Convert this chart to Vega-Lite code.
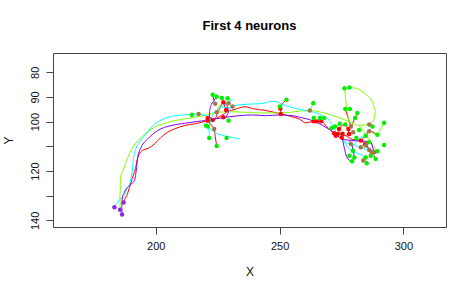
{
 "$schema": "https://vega.github.io/schema/vega-lite/v6.json",
 "width": 393, "height": 174,
 "autosize": "none",
 "padding": {"left": 53, "top": 53, "right": 28, "bottom": 66},
 "background": "white",
 "title": {"text": "First 4 neurons", "font": "Liberation Sans", "fontSize": 13, "fontWeight": "bold", "anchor": "middle", "offset": 20, "color": "#000"},
 "config": {"view": {"stroke": "#444", "strokeWidth": 1}},
 "datasets": {
  "lines": [
   {"n":"1","b":"r1","o":1,"x":187,"y":132.8},{"n":"1","b":"r1","o":2,"x":187.5,"y":131.5},{"n":"1","b":"r1","o":3,"x":188.5,"y":129.5},{"n":"1","b":"r1","o":4,"x":189.4,"y":126.6},{"n":"1","b":"r1","o":5,"x":190.5,"y":123},{"n":"1","b":"r1","o":6,"x":191.8,"y":119},{"n":"1","b":"r1","o":7,"x":192.5,"y":115.5},{"n":"1","b":"r1","o":8,"x":193.5,"y":112.8},{"n":"1","b":"r1","o":9,"x":195,"y":111.5},{"n":"1","b":"r1","o":10,"x":197,"y":110.8},{"n":"1","b":"r1","o":11,"x":199.5,"y":109},{"n":"1","b":"r1","o":12,"x":202,"y":106.5},{"n":"1","b":"r1","o":13,"x":204.8,"y":104.3},{"n":"1","b":"r1","o":14,"x":207.5,"y":103},{"n":"1","b":"r1","o":15,"x":211.6,"y":101.6},{"n":"1","b":"r1","o":16,"x":215.6,"y":100.9},{"n":"1","b":"r1","o":17,"x":218.5,"y":100.3},{"n":"1","b":"r1","o":18,"x":221,"y":99.6},{"n":"1","b":"r1","o":19,"x":224,"y":99},{"n":"1","b":"r1","o":20,"x":226.5,"y":97.5},{"n":"1","b":"r1","o":21,"x":229,"y":96},{"n":"1","b":"r1","o":22,"x":232,"y":95},{"n":"1","b":"r1","o":23,"x":236,"y":94},{"n":"1","b":"r1","o":24,"x":239.5,"y":94.8},{"n":"1","b":"r1","o":25,"x":244.5,"y":95.5},{"n":"1","b":"r1","o":26,"x":250.5,"y":96.9},{"n":"1","b":"r1","o":27,"x":255,"y":98},{"n":"1","b":"r1","o":28,"x":258,"y":99},{"n":"1","b":"r1","o":29,"x":260.6,"y":100.5},{"n":"1","b":"r1","o":30,"x":263.8,"y":99.9},{"n":"1","b":"r1","o":31,"x":266.8,"y":99.9},{"n":"1","b":"r1","o":32,"x":269,"y":102},{"n":"1","b":"r1","o":33,"x":272,"y":104.5},{"n":"1","b":"r1","o":34,"x":274,"y":105},{"n":"1","b":"r1","o":35,"x":276.7,"y":105.7},{"n":"1","b":"r1","o":36,"x":279.4,"y":107.2},{"n":"1","b":"r1","o":37,"x":282.8,"y":107.7},{"n":"1","b":"r1","o":38,"x":284.5,"y":109.3},{"n":"1","b":"r1","o":39,"x":287.2,"y":112.4},{"n":"1","b":"r1","o":40,"x":288.8,"y":115.1},
   {"n":"1","b":"r2","o":1,"x":221,"y":99.6},{"n":"1","b":"r2","o":2,"x":222.5,"y":101.5},{"n":"1","b":"r2","o":3,"x":223.6,"y":103},{"n":"1","b":"r2","o":4,"x":224,"y":106},{"n":"1","b":"r2","o":5,"x":224.6,"y":109.9},
   {"n":"1","b":"r3","o":1,"x":224,"y":99},{"n":"1","b":"r3","o":2,"x":225.5,"y":95.5},{"n":"1","b":"r3","o":3,"x":227.3,"y":92.2},{"n":"1","b":"r3","o":4,"x":227,"y":90.8},{"n":"1","b":"r3","o":5,"x":226.7,"y":90.4},
   {"n":"1","b":"r4","o":1,"x":227.3,"y":92.2},{"n":"1","b":"r4","o":2,"x":228.4,"y":95.3},
   {"n":"1","b":"r5","o":1,"x":250.5,"y":96.9},{"n":"1","b":"r5","o":2,"x":250.3,"y":95},{"n":"1","b":"r5","o":3,"x":250.1,"y":93.9},{"n":"1","b":"r5","o":4,"x":251.5,"y":92.3},{"n":"1","b":"r5","o":5,"x":252.8,"y":91.1},
   {"n":"1","b":"r6","o":1,"x":263.8,"y":99.9},{"n":"1","b":"r6","o":2,"x":263.8,"y":98.5},
   {"n":"1","b":"r7","o":1,"x":274,"y":105},{"n":"1","b":"r7","o":2,"x":274,"y":103},{"n":"1","b":"r7","o":3,"x":276.5,"y":101.2},{"n":"1","b":"r7","o":4,"x":277.8,"y":103},{"n":"1","b":"r7","o":5,"x":278.8,"y":102},{"n":"1","b":"r7","o":6,"x":280.5,"y":98.5},{"n":"1","b":"r7","o":7,"x":281.4,"y":96.5},
   {"n":"1","b":"r8","o":1,"x":278.8,"y":102},{"n":"1","b":"r8","o":2,"x":276.5,"y":94.9},
   {"n":"1","b":"r9","o":1,"x":282.8,"y":107.7},{"n":"1","b":"r9","o":2,"x":284.8,"y":105.7},{"n":"1","b":"r9","o":3,"x":286.2,"y":103.9},{"n":"1","b":"r9","o":4,"x":289.5,"y":105.3},
   {"n":"1","b":"r10","o":1,"x":284.5,"y":109.3},{"n":"1","b":"r10","o":2,"x":286,"y":108.4},
   {"n":"1","b":"r11","o":1,"x":276.7,"y":105.7},{"n":"1","b":"r11","o":2,"x":278.1,"y":105},{"n":"1","b":"r11","o":3,"x":277.8,"y":103},
   {"n":"2","b":"g1","o":1,"x":185.6,"y":135.7},{"n":"2","b":"g1","o":2,"x":185.5,"y":130},{"n":"2","b":"g1","o":3,"x":185.7,"y":126},{"n":"2","b":"g1","o":4,"x":185.7,"y":122.6},{"n":"2","b":"g1","o":5,"x":186.7,"y":119.9},{"n":"2","b":"g1","o":6,"x":188.7,"y":114.5},{"n":"2","b":"g1","o":7,"x":190.7,"y":110.4},{"n":"2","b":"g1","o":8,"x":194.1,"y":106.4},{"n":"2","b":"g1","o":9,"x":199.5,"y":102.3},{"n":"2","b":"g1","o":10,"x":204.8,"y":100.3},{"n":"2","b":"g1","o":11,"x":211.6,"y":98.9},{"n":"2","b":"g1","o":12,"x":215.6,"y":98.2},{"n":"2","b":"g1","o":13,"x":220,"y":97.5},{"n":"2","b":"g1","o":14,"x":224.6,"y":96.2},{"n":"2","b":"g1","o":15,"x":230,"y":96},{"n":"2","b":"g1","o":16,"x":236,"y":96.2},{"n":"2","b":"g1","o":17,"x":242,"y":96.5},{"n":"2","b":"g1","o":18,"x":250,"y":96.5},{"n":"2","b":"g1","o":19,"x":256,"y":96},{"n":"2","b":"g1","o":20,"x":262.2,"y":95.5},{"n":"2","b":"g1","o":21,"x":268,"y":96.5},{"n":"2","b":"g1","o":22,"x":273,"y":98},{"n":"2","b":"g1","o":23,"x":278,"y":100},{"n":"2","b":"g1","o":24,"x":282,"y":101.5},{"n":"2","b":"g1","o":25,"x":286.2,"y":101.2},
   {"n":"2","b":"g2","o":1,"x":220,"y":97.5},{"n":"2","b":"g2","o":2,"x":217.3,"y":96.9},{"n":"2","b":"g2","o":3,"x":214.6,"y":97.2},
   {"n":"2","b":"g3","o":1,"x":224.6,"y":96.2},{"n":"2","b":"g3","o":2,"x":225.5,"y":94},{"n":"2","b":"g3","o":3,"x":227,"y":92.5},{"n":"2","b":"g3","o":4,"x":229,"y":90.5},
   {"n":"2","b":"g4","o":1,"x":262.2,"y":95.5},{"n":"2","b":"g4","o":2,"x":263.6,"y":92.6},
   {"n":"2","b":"g5","o":1,"x":278,"y":100},{"n":"2","b":"g5","o":2,"x":277.5,"y":97},{"n":"2","b":"g5","o":3,"x":276.9,"y":93},{"n":"2","b":"g5","o":4,"x":276.5,"y":89},{"n":"2","b":"g5","o":5,"x":276.2,"y":86.5},
   {"n":"2","b":"g6","o":1,"x":286.2,"y":101.2},{"n":"2","b":"g6","o":2,"x":288.2,"y":99},{"n":"2","b":"g6","o":3,"x":288.8,"y":95.5},{"n":"2","b":"g6","o":4,"x":287.5,"y":92},{"n":"2","b":"g6","o":5,"x":284.8,"y":89},{"n":"2","b":"g6","o":6,"x":281,"y":86.5},{"n":"2","b":"g6","o":7,"x":278.2,"y":86.2},
   {"n":"2","b":"g7","o":1,"x":286.2,"y":103.9},{"n":"2","b":"g7","o":2,"x":289.5,"y":105.3},{"n":"2","b":"g7","o":3,"x":291,"y":102.5},{"n":"2","b":"g7","o":4,"x":292.2,"y":100.5},
   {"n":"2","b":"g8","o":1,"x":282,"y":101.5},{"n":"2","b":"g8","o":2,"x":284,"y":104},{"n":"2","b":"g8","o":3,"x":286,"y":107},{"n":"2","b":"g8","o":4,"x":288,"y":110},{"n":"2","b":"g8","o":5,"x":289.5,"y":112},
   {"n":"3","b":"c1","o":1,"x":183.3,"y":134.7},{"n":"3","b":"c1","o":2,"x":185,"y":132},{"n":"3","b":"c1","o":3,"x":187,"y":130},{"n":"3","b":"c1","o":4,"x":188.5,"y":127},{"n":"3","b":"c1","o":5,"x":189.8,"y":124},{"n":"3","b":"c1","o":6,"x":190.5,"y":120},{"n":"3","b":"c1","o":7,"x":191,"y":115},{"n":"3","b":"c1","o":8,"x":192,"y":111},{"n":"3","b":"c1","o":9,"x":194,"y":107.5},{"n":"3","b":"c1","o":10,"x":196.5,"y":104.5},{"n":"3","b":"c1","o":11,"x":198.5,"y":102},{"n":"3","b":"c1","o":12,"x":201,"y":100},{"n":"3","b":"c1","o":13,"x":204,"y":98.5},{"n":"3","b":"c1","o":14,"x":208,"y":97.6},{"n":"3","b":"c1","o":15,"x":212,"y":97.2},{"n":"3","b":"c1","o":16,"x":217,"y":97},{"n":"3","b":"c1","o":17,"x":220,"y":97.5},{"n":"3","b":"c1","o":18,"x":222,"y":99},{"n":"3","b":"c1","o":19,"x":222,"y":100.5},{"n":"3","b":"c1","o":20,"x":221,"y":102},
   {"n":"3","b":"c2","o":1,"x":221,"y":102},{"n":"3","b":"c2","o":2,"x":221.6,"y":104.5},{"n":"3","b":"c2","o":3,"x":221.6,"y":106.6},
   {"n":"3","b":"c3","o":1,"x":221,"y":102},{"n":"3","b":"c3","o":2,"x":224,"y":104.5},{"n":"3","b":"c3","o":3,"x":228,"y":105.8},{"n":"3","b":"c3","o":4,"x":231,"y":106.5},{"n":"3","b":"c3","o":5,"x":234,"y":107},
   {"n":"3","b":"c4","o":1,"x":222,"y":99},{"n":"3","b":"c4","o":2,"x":224,"y":96},{"n":"3","b":"c4","o":3,"x":226.5,"y":94},{"n":"3","b":"c4","o":4,"x":229,"y":92},{"n":"3","b":"c4","o":5,"x":231,"y":91},
   {"n":"3","b":"c5","o":1,"x":226.5,"y":94},{"n":"3","b":"c5","o":2,"x":230,"y":94.5},{"n":"3","b":"c5","o":3,"x":232,"y":93.5},{"n":"3","b":"c5","o":4,"x":236,"y":93},{"n":"3","b":"c5","o":5,"x":240,"y":92.8},{"n":"3","b":"c5","o":6,"x":244,"y":92.5},{"n":"3","b":"c5","o":7,"x":246.5,"y":91.8},{"n":"3","b":"c5","o":8,"x":249,"y":92},{"n":"3","b":"c5","o":9,"x":251,"y":93},{"n":"3","b":"c5","o":10,"x":254,"y":94},{"n":"3","b":"c5","o":11,"x":258,"y":95},{"n":"3","b":"c5","o":12,"x":263,"y":96},{"n":"3","b":"c5","o":13,"x":267,"y":97.5},{"n":"3","b":"c5","o":14,"x":270,"y":99.5},{"n":"3","b":"c5","o":15,"x":272,"y":102.5},{"n":"3","b":"c5","o":16,"x":273.5,"y":105.5},{"n":"3","b":"c5","o":17,"x":276,"y":108},{"n":"3","b":"c5","o":18,"x":280,"y":109.5},{"n":"3","b":"c5","o":19,"x":284,"y":111},{"n":"3","b":"c5","o":20,"x":287,"y":111.5},{"n":"3","b":"c5","o":21,"x":289.5,"y":112},
   {"n":"3","b":"c6","o":1,"x":276,"y":108},{"n":"3","b":"c6","o":2,"x":279,"y":111.8},{"n":"3","b":"c6","o":3,"x":282,"y":113},{"n":"3","b":"c6","o":4,"x":284.8,"y":114.5},
   {"n":"3","b":"c7","o":1,"x":280,"y":109.5},{"n":"3","b":"c7","o":2,"x":282,"y":107},{"n":"3","b":"c7","o":3,"x":284.8,"y":105.7},
   {"n":"3","b":"c8","o":1,"x":228,"y":98.5},{"n":"3","b":"c8","o":2,"x":229.4,"y":99.6},
   {"n":"4","b":"p1","o":1,"x":186.4,"y":137.6},{"n":"4","b":"p1","o":2,"x":186.2,"y":135},{"n":"4","b":"p1","o":3,"x":186.5,"y":131},{"n":"4","b":"p1","o":4,"x":187.4,"y":128.5},{"n":"4","b":"p1","o":5,"x":190,"y":125.3},{"n":"4","b":"p1","o":6,"x":191.4,"y":123.9},{"n":"4","b":"p1","o":7,"x":192.1,"y":119.9},{"n":"4","b":"p1","o":8,"x":192.7,"y":114.5},{"n":"4","b":"p1","o":9,"x":194.1,"y":110.4},{"n":"4","b":"p1","o":10,"x":196.8,"y":107},{"n":"4","b":"p1","o":11,"x":200.8,"y":103.6},{"n":"4","b":"p1","o":12,"x":206.2,"y":101.6},{"n":"4","b":"p1","o":13,"x":211.6,"y":100.7},{"n":"4","b":"p1","o":14,"x":216.9,"y":99.9},{"n":"4","b":"p1","o":15,"x":219.6,"y":99.6},{"n":"4","b":"p1","o":16,"x":221.6,"y":98.2},{"n":"4","b":"p1","o":17,"x":223,"y":98.9},{"n":"4","b":"p1","o":18,"x":228.4,"y":98.2},{"n":"4","b":"p1","o":19,"x":233.7,"y":97.6},{"n":"4","b":"p1","o":20,"x":239,"y":97.3},{"n":"4","b":"p1","o":21,"x":244.5,"y":97.6},{"n":"4","b":"p1","o":22,"x":250,"y":97.3},{"n":"4","b":"p1","o":23,"x":255.2,"y":97.6},{"n":"4","b":"p1","o":24,"x":258,"y":98.2},{"n":"4","b":"p1","o":25,"x":263.3,"y":99.6},{"n":"4","b":"p1","o":26,"x":268.7,"y":102.3},{"n":"4","b":"p1","o":27,"x":272.7,"y":105},{"n":"4","b":"p1","o":28,"x":275.4,"y":107.2},{"n":"4","b":"p1","o":29,"x":278,"y":107.5},{"n":"4","b":"p1","o":30,"x":281,"y":107.8},{"n":"4","b":"p1","o":31,"x":284.8,"y":108},{"n":"4","b":"p1","o":32,"x":287,"y":108.5},
   {"n":"4","b":"p2","o":1,"x":221.6,"y":98.2},{"n":"4","b":"p2","o":2,"x":221.8,"y":95.5},{"n":"4","b":"p2","o":3,"x":222.5,"y":93},{"n":"4","b":"p2","o":4,"x":223.5,"y":91.5},{"n":"4","b":"p2","o":5,"x":224.6,"y":89.9},
   {"n":"4","b":"p3","o":1,"x":223,"y":89.1},{"n":"4","b":"p3","o":2,"x":223.5,"y":91.5},
   {"n":"4","b":"p4","o":1,"x":228.4,"y":98.2},{"n":"4","b":"p4","o":2,"x":229.4,"y":96.5},{"n":"4","b":"p4","o":3,"x":229,"y":94},{"n":"4","b":"p4","o":4,"x":228,"y":92.8},
   {"n":"4","b":"p5","o":1,"x":275.4,"y":107.2},{"n":"4","b":"p5","o":2,"x":276,"y":110},{"n":"4","b":"p5","o":3,"x":276.7,"y":113.1},{"n":"4","b":"p5","o":4,"x":278,"y":115.5},{"n":"4","b":"p5","o":5,"x":279.3,"y":116.1},
   {"n":"4","b":"p6","o":1,"x":278,"y":107.5},{"n":"4","b":"p6","o":2,"x":279.6,"y":111.1},{"n":"4","b":"p6","o":3,"x":280.2,"y":114.5},
   {"n":"4","b":"p7","o":1,"x":284.8,"y":108},{"n":"4","b":"p7","o":2,"x":286.2,"y":111.5},{"n":"4","b":"p7","o":3,"x":287.2,"y":112.4},
   {"n":"4","b":"p8","o":1,"x":287,"y":108.5},{"n":"4","b":"p8","o":2,"x":288.2,"y":112.4}
  ],
  "points": [
   {"t":"soma","x":183.3,"y":134.7},{"t":"soma","x":185.6,"y":135.7},{"t":"soma","x":186.4,"y":137.6},{"t":"soma","x":187,"y":132.8},
   {"t":"branch","x":221,"y":98.5},{"t":"branch","x":221,"y":99.6},{"t":"branch","x":223,"y":99.3},{"t":"branch","x":227.3,"y":92.2},{"t":"branch","x":228.4,"y":95.3},{"t":"branch","x":227.3,"y":98.2},{"t":"branch","x":250.5,"y":96.9},{"t":"branch","x":250.3,"y":94.7},{"t":"branch","x":263.8,"y":99.9},{"t":"branch","x":265,"y":99.9},{"t":"branch","x":266.8,"y":99.9},{"t":"branch","x":274,"y":103},{"t":"branch","x":272,"y":104.7},{"t":"branch","x":272.7,"y":105.7},{"t":"branch","x":273.4,"y":105},{"t":"branch","x":275.1,"y":106.4},{"t":"branch","x":277.8,"y":103},{"t":"branch","x":278.1,"y":105},{"t":"branch","x":282.8,"y":107.7},{"t":"branch","x":284.5,"y":109.3},{"t":"branch","x":275.4,"y":104.9},
   {"t":"end","x":214.6,"y":97.2},{"t":"end","x":223,"y":89.1},{"t":"end","x":224.6,"y":89.9},{"t":"end","x":226.7,"y":90.4},{"t":"end","x":229,"y":90.5},{"t":"end","x":221,"y":102},{"t":"end","x":220.3,"y":101.6},{"t":"end","x":221.6,"y":106.6},{"t":"end","x":224.6,"y":109.9},{"t":"end","x":228.6,"y":106.6},{"t":"end","x":229.4,"y":99.6},{"t":"end","x":250.1,"y":93.9},{"t":"end","x":252.8,"y":91.1},{"t":"end","x":263.6,"y":92.6},{"t":"end","x":263.8,"y":98.5},{"t":"end","x":266.3,"y":98.5},{"t":"end","x":268,"y":98.5},{"t":"end","x":276.2,"y":86.5},{"t":"end","x":278.2,"y":86.2},{"t":"end","x":276.5,"y":94.9},{"t":"end","x":278.4,"y":94.9},{"t":"end","x":281.4,"y":96.5},{"t":"end","x":280.5,"y":98.5},{"t":"end","x":271.1,"y":102.6},{"t":"end","x":272.4,"y":102},{"t":"end","x":274.3,"y":100.9},{"t":"end","x":276.5,"y":101.2},{"t":"end","x":282.1,"y":103.4},{"t":"end","x":287.5,"y":102},{"t":"end","x":292.2,"y":100.5},{"t":"end","x":289.5,"y":105.3},{"t":"end","x":281,"y":106.6},{"t":"end","x":284.8,"y":105.7},{"t":"end","x":286,"y":108.4},{"t":"end","x":289.5,"y":112},{"t":"end","x":292.2,"y":109.5},{"t":"end","x":288.8,"y":115.1},{"t":"end","x":286.8,"y":113.8},{"t":"end","x":279.6,"y":111.8},{"t":"end","x":278.2,"y":113.8},{"t":"end","x":280.2,"y":114.5},{"t":"end","x":279.3,"y":116.1},{"t":"end","x":285.2,"y":116.9},{"t":"end","x":284.8,"y":114.5},
   {"t":"mid","x":217.3,"y":96.9},{"t":"mid","x":224,"y":92.8},{"t":"mid","x":229.4,"y":92.6},{"t":"mid","x":231,"y":93.9},{"t":"mid","x":224.6,"y":96.2},{"t":"mid","x":223.6,"y":103},{"t":"mid","x":262.2,"y":95.5},{"t":"mid","x":286.2,"y":101.2},{"t":"mid","x":286.2,"y":103.9},{"t":"mid","x":278.8,"y":102},{"t":"mid","x":279.7,"y":104.3},{"t":"mid","x":278.8,"y":109.1},{"t":"mid","x":282.8,"y":110.4},{"t":"mid","x":284.8,"y":109.7},{"t":"mid","x":286.2,"y":111.5},{"t":"mid","x":287.2,"y":112.4},{"t":"mid","x":283.8,"y":115.8},{"t":"mid","x":288.2,"y":112.4}
  ]
 },
 "encoding": {
  "x": {"field": "x", "type": "quantitative", "scale": {"domain": [158.5, 317.2], "nice": false, "zero": false},
        "axis": {"values": [200, 250, 300], "domain": false, "grid": false, "tickSize": 7, "tickColor": "#444", "labelFont": "Liberation Sans", "labelFontSize": 11, "labelColor": "#111", "labelPadding": 6, "title": "X", "titleFont": "Liberation Sans", "titleFontSize": 12, "titleFontWeight": "normal", "titleColor": "#111", "titlePadding": 15}},
  "y": {"field": "y", "type": "quantitative", "scale": {"domain": [72.2, 142.7], "nice": false, "zero": false, "reverse": true},
        "axis": {"values": [80, 90, 100, 110, 120, 130, 140], "labelExpr": "datum.value == 110 || datum.value == 130 ? '' : datum.label", "domain": false, "grid": false, "tickSize": 7, "tickColor": "#444", "labelAngle": -90, "labelAlign": "center", "labelBaseline": "bottom", "labelFont": "Liberation Sans", "labelFontSize": 11, "labelColor": "#111", "labelPadding": 6, "title": "Y", "titleFont": "Liberation Sans", "titleFontSize": 12, "titleFontWeight": "normal", "titleColor": "#111", "titlePadding": 14}}
 },
 "layer": [
  {"data": {"name": "lines"}, "mark": {"type": "line", "strokeWidth": 1, "interpolate": "monotone"},
   "encoding": {"color": {"field": "n", "type": "nominal", "scale": {"domain": ["1", "2", "3", "4"], "range": ["#FF0000", "#80FF00", "#00FFFF", "#8000FF"]}, "legend": null},
                "detail": {"field": "b"}, "order": {"field": "o", "type": "quantitative"}}},
  {"data": {"name": "points"}, "mark": {"type": "circle", "size": 20, "opacity": 1},
   "encoding": {"color": {"field": "t", "type": "nominal", "scale": {"domain": ["soma", "branch", "end", "mid"], "range": ["#8A2BE2", "#FF0000", "#00EE00", "#A07848"]}, "legend": null}}}
 ],
 "resolve": {"scale": {"color": "independent"}}
}
